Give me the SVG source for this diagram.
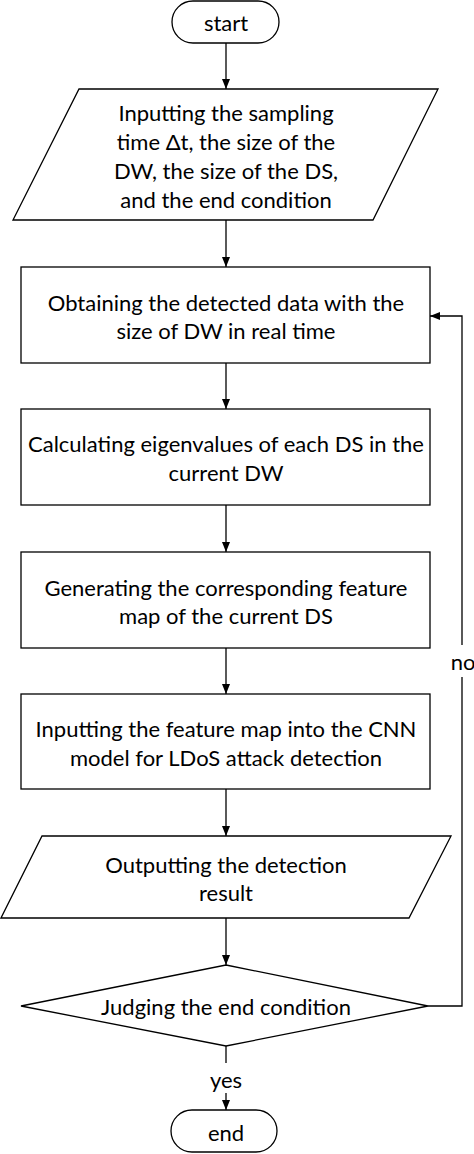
<svg xmlns="http://www.w3.org/2000/svg" width="474" height="1154" viewBox="0 0 474 1154">
<style>
.s{fill:#fff;stroke:#000;stroke-width:1.3}
.t{font-family:Lato,"Open Sans",sans-serif;font-size:22px;fill:#000;text-anchor:middle;dominant-baseline:central}
.c{fill:none;stroke:#000;stroke-width:1.3}
</style>
<defs>
<marker id="a" viewBox="0 0 10 10" refX="10" refY="5" markerWidth="10" markerHeight="10" markerUnits="userSpaceOnUse" orient="auto">
<path d="M0,1 L10,5 L0,9 Z" fill="#000"/>
</marker>
</defs>
<rect width="474" height="1154" fill="#fff"/>
<g id="connectors">
<line class="c" x1="226" y1="43" x2="226" y2="89" marker-end="url(#a)"/>
<line class="c" x1="226" y1="220" x2="226" y2="267" marker-end="url(#a)"/>
<line class="c" x1="226" y1="363" x2="226" y2="409" marker-end="url(#a)"/>
<line class="c" x1="226" y1="505" x2="226" y2="552" marker-end="url(#a)"/>
<line class="c" x1="226" y1="648" x2="226" y2="694" marker-end="url(#a)"/>
<line class="c" x1="226" y1="789" x2="226" y2="836" marker-end="url(#a)"/>
<line class="c" x1="226" y1="918" x2="226" y2="965" marker-end="url(#a)"/>
<polyline class="c" points="428,1006 462,1006 462,677"/>
<polyline class="c" points="462,645 462,316 430,316" marker-end="url(#a)"/>
<text class="t" x="463" y="661">no</text>
<line class="c" x1="226" y1="1046" x2="226" y2="1063"/>
<text class="t" x="226" y="1079">yes</text>
<line class="c" x1="226" y1="1093" x2="226" y2="1110" marker-end="url(#a)"/>
</g>
<g id="start">
<rect class="s" x="172" y="1" width="107" height="42" rx="21"/>
<text class="t" x="226" y="22">start</text>
</g>
<g id="input">
<polygon class="s" points="79,89 438,89 373,220 13,220"/>
<text class="t" x="226" y="112">Inputting the sampling</text>
<text class="t" x="226" y="141">time Δt, the size of the</text>
<text class="t" x="226" y="170">DW, the size of the DS,</text>
<text class="t" x="226" y="199">and the end condition</text>
</g>
<g id="obtain">
<rect class="s" x="21" y="267" width="409" height="96"/>
<text class="t" x="226" y="302">Obtaining the detected data with the</text>
<text class="t" x="226" y="330">size of DW in real time</text>
</g>
<g id="calc">
<rect class="s" x="21" y="409" width="409" height="96"/>
<text class="t" x="226" y="443">Calculating eigenvalues of each DS in the</text>
<text class="t" x="226" y="472">current DW</text>
</g>
<g id="gen">
<rect class="s" x="21" y="552" width="409" height="96"/>
<text class="t" x="226" y="587">Generating the corresponding feature</text>
<text class="t" x="226" y="615">map of the current DS</text>
</g>
<g id="cnn">
<rect class="s" x="21" y="694" width="409" height="95"/>
<text class="t" x="226" y="728">Inputting the feature map into the CNN</text>
<text class="t" x="226" y="757">model for LDoS attack detection</text>
</g>
<g id="output">
<polygon class="s" points="42,836 451,836 409,918 1,918"/>
<text class="t" x="226" y="864">Outputting the detection</text>
<text class="t" x="226" y="892">result</text>
</g>
<g id="judge">
<polygon class="s" points="226,965 428,1006 226,1046 21,1006"/>
<text class="t" x="226" y="1006">Judging the end condition</text>
</g>
<g id="end">
<rect class="s" x="171" y="1110" width="106" height="42" rx="21"/>
<text class="t" x="226" y="1132">end</text>
</g>
</svg>
